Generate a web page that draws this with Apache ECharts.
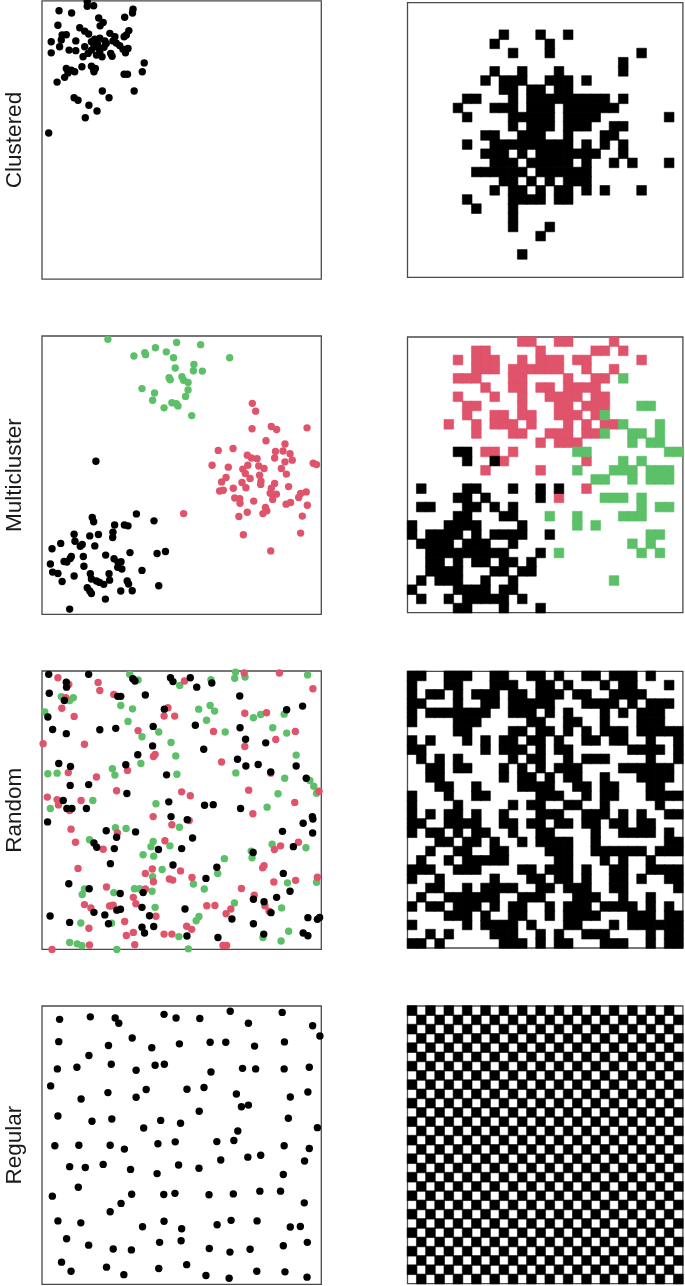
<!DOCTYPE html>
<html>
<head>
<meta charset="utf-8">
<script src="https://cdn.jsdelivr.net/npm/echarts@6/dist/echarts.min.js"></script>
<style>
html,body{margin:0;padding:0;background:#fff;}
#chart{width:685px;height:1286px;}
</style>
</head>
<body>
<div id="chart"></div>
<script>
// ---------------- DATA ----------------
const rowLabels = ['Clustered', 'Multicluster', 'Random', 'Regular'];

// scatter panels: [x, y] on a 0-100 scale
const clusteredPts = [
[16.2,99.7],[16.2,98.0],[18.5,98.2],[6.1,96.4],[10.6,95.6],[32.6,97.0],[32.4,95.6],[29.6,94.1],
[20.3,93.8],[21.9,92.2],[20.8,91.0],[5.7,91.2],[13.5,90.3],[15.3,89.1],[16.7,88.1],[31.1,89.3],
[30.2,87.7],[7.2,87.7],[8.7,87.8],[24.3,88.3],[26.1,87.1],[29.4,87.1],[12.1,85.6],[6.9,85.9],
[3.3,85.3],[6.3,83.5],[3.3,81.3],[9.7,82.3],[12.1,82.1],[15.3,83.5],[17.7,85.3],[18.9,86.2],
[20.7,86.6],[22.5,85.6],[23.0,84.7],[25.4,85.6],[26.6,84.8],[27.8,83.9],[18.6,83.5],[20.1,83.2],
[20.7,81.7],[17.7,82.3],[19.5,80.5],[21.5,79.9],[24.6,81.1],[25.1,80.1],[29.0,82.6],[30.8,82.9],
[29.9,81.3],[14.7,79.9],[36.6,77.7],[35.9,74.5],[8.7,75.7],[10.5,75.1],[9.3,74.1],[11.7,74.5],
[8.1,72.5],[14.3,76.3],[17.7,76.5],[19.1,75.7],[18.6,74.5],[29.4,73.6],[30.6,73.6],[5.4,70.8],
[21.6,67.6],[33.0,67.6],[11.5,65.2],[12.9,64.3],[24.0,65.2],[16.8,62.5],[19.7,60.4],[15.5,58.0],
[2.4,52.5],[19.8,84.7],[22.2,83.3],[16.5,81.1],[18.5,75.3]
];

const multiGreen = [
[23.6,98.8],[32.9,92.8],[36.8,94.0],[37.1,93.3],[40.6,95.8],[44.5,94.3],[48.2,97.7],[47.1,92.2],
[56.8,96.9],[67.2,92.2],[47.7,88.5],[54.4,89.8],[54.2,87.5],[57.4,87.4],[45.5,85.0],[45.9,84.3],
[50.1,85.4],[50.7,84.1],[52.3,83.3],[35.8,81.1],[40.3,79.5],[52.3,80.6],[51.4,78.3],[39.6,76.9],
[46.5,76.0],[48.1,75.7],[48.7,74.9],[43.7,74.2],[53.6,71.4]
];
const multiRed = [
[75.3,75.8],[76.5,73.0],[75.2,66.7],[82.1,67.5],[84.0,66.4],[94.9,67.0],[80.2,62.4],[87.0,61.2],
[63.1,58.9],[68.4,59.6],[73.5,57.2],[75.0,56.2],[77.0,55.9],[83.6,58.5],[86.3,58.7],[88.8,57.7],
[83.3,56.2],[87.0,54.8],[89.6,55.4],[97.1,54.3],[98.3,53.8],[60.9,53.6],[66.7,52.9],[71.9,52.2],
[73.7,53.6],[77.6,53.3],[79.5,52.4],[85.7,52.4],[65.9,49.2],[72.8,50.6],[74.5,48.8],[77.9,50.0],
[78.3,46.7],[83.3,47.0],[87.5,50.4],[64.3,47.6],[71.6,47.4],[78.4,47.8],[63.6,44.3],[64.9,44.6],
[68.5,45.3],[73.0,45.5],[82.1,45.3],[88.3,45.9],[81.7,43.5],[83.9,43.2],[94.6,44.0],[92.6,43.4],
[91.9,42.0],[69.0,41.8],[70.8,41.6],[75.8,40.7],[82.6,41.3],[70.9,39.9],[87.4,39.6],[89.0,40.2],
[95.0,39.2],[80.0,38.4],[80.5,37.2],[79.1,36.2],[73.5,36.7],[70.5,35.2],[50.7,36.2],[93.2,35.3],
[72.1,28.6],[92.6,29.2],[81.9,22.8]
];
const multiBlack = [
[19.3,55.0],[33.8,36.1],[40.1,33.6],[18.0,34.8],[18.5,33.3],[26.0,32.1],[29.5,32.1],[30.8,31.8],
[11.5,28.8],[17.1,28.2],[20.2,28.7],[25.4,29.5],[25.3,27.6],[6.7,25.5],[11.8,26.3],[13.7,24.5],
[14.4,25.1],[18.9,24.6],[3.6,23.6],[31.5,22.2],[41.2,21.9],[44.2,22.6],[10.5,20.8],[14.8,20.8],
[22.8,21.3],[7.9,19.0],[8.9,18.8],[10.1,20.1],[25.8,20.0],[27.2,18.7],[28.3,18.9],[3.0,18.1],
[15.0,17.3],[27.1,16.9],[28.6,16.3],[35.8,15.8],[3.8,15.2],[5.7,14.7],[11.5,13.8],[17.3,14.6],
[24.0,14.6],[17.7,12.7],[19.5,12.0],[20.6,11.5],[22.1,10.8],[24.2,12.3],[7.2,11.8],[30.5,12.0],
[31.0,10.9],[16.2,9.6],[17.1,8.4],[17.7,7.5],[28.2,8.4],[32.3,8.5],[41.8,10.3],[22.7,5.5],[9.9,1.9]
];

const randomBlack = [
[2.4,98.8],[8.7,96.0],[8.8,94.2],[16.7,98.8],[2.6,92.0],[8.0,89.4],[2.1,83.5],[32.5,97.2],
[33.3,96.4],[27.1,90.9],[28.2,90.9],[37.0,91.4],[46.0,97.6],[46.9,96.2],[53.1,97.6],[55.4,94.2],
[60.8,95.7],[70.8,91.0],[43.8,86.3],[87.6,86.1],[93.3,87.4],[3.8,79.0],[8.7,77.5],[20.7,78.9],
[26.4,79.4],[39.8,80.1],[54.9,80.5],[70.9,79.6],[72.9,75.5],[80.1,74.2],[39.6,73.1],[57.9,71.9],
[34.3,69.9],[6.0,66.8],[10.2,65.7],[30.0,66.3],[44.6,62.7],[70.0,68.3],[73.0,65.9],[77.4,66.4],
[81.9,63.7],[91.0,65.9],[94.6,61.5],[10.1,58.9],[16.7,59.2],[30.4,56.0],[7.6,53.5],[45.4,53.0],
[58.2,51.8],[61.3,52.0],[8.9,50.6],[10.7,50.6],[15.9,50.6],[71.1,50.6],[2.0,45.8],[46.2,47.7],
[52.0,46.6],[93.5,45.3],[96.8,47.7],[97.0,46.8],[96.9,41.8],[23.0,42.6],[33.5,42.2],[26.7,40.3],
[86.1,42.4],[18.6,38.2],[19.6,36.7],[25.9,36.2],[41.7,35.9],[50.0,36.2],[53.9,40.0],[75.6,34.8],
[90.0,36.9],[24.5,30.8],[46.9,30.3],[62.6,29.5],[58.7,25.5],[86.4,27.3],[88.8,20.9],[9.6,23.6],
[16.9,21.8],[28.0,20.1],[36.2,20.4],[18.6,13.3],[26.8,14.1],[28.1,14.4],[22.5,12.4],[35.8,15.1],
[38.5,12.1],[51.2,14.5],[68.0,10.9],[75.7,18.0],[79.5,17.1],[84.0,18.7],[82.0,13.2],[95.2,11.4],
[98.6,10.8],[99.4,11.5],[2.9,12.0],[9.9,9.7],[23.8,9.2],[35.8,8.0],[40.0,8.2],[36.7,5.9],
[51.9,4.8],[63.0,4.3],[75.7,9.2],[79.4,5.5],[93.5,5.9],[95.2,4.9]
];
const randomRed = [
[5.7,97.6],[9.6,95.2],[20.1,95.9],[20.7,93.0],[8.5,90.4],[7.1,86.6],[11.5,83.7],[25.7,91.6],
[51.0,96.4],[72.4,99.3],[85.0,99.3],[97.0,93.6],[45.1,86.8],[43.7,83.8],[47.5,83.8],[72.6,84.8],
[80.4,85.0],[34.4,78.6],[61.4,78.3],[72.6,72.9],[83.7,75.4],[90.7,78.3],[0.4,73.9],[15.2,73.7],
[39.9,69.3],[40.5,70.0],[9.4,63.5],[30.6,64.3],[19.5,61.9],[64.3,67.3],[81.9,63.3],[99.2,56.8],
[26.7,57.0],[50.0,56.6],[53.1,55.2],[74.0,57.2],[90.5,52.8],[1.9,54.7],[5.4,53.8],[5.9,51.9],
[14.0,53.5],[9.9,49.9],[75.5,48.7],[39.8,47.7],[46.5,44.8],[52.7,46.3],[10.4,43.2],[27.0,41.8],
[12.0,38.5],[21.9,36.0],[44.0,39.0],[83.2,35.9],[85.4,37.2],[91.8,38.5],[12.9,29.1],[49.6,28.2],
[39.5,28.9],[37.0,27.3],[45.6,25.3],[46.8,24.9],[39.9,24.3],[53.7,25.8],[79.5,30.1],[79.0,29.3],
[90.8,24.8],[83.0,24.2],[98.6,25.9],[23.1,22.4],[37.0,21.7],[71.4,21.9],[32.7,18.7],[33.6,16.4],
[15.2,16.1],[24.2,15.6],[25.0,15.7],[25.5,15.9],[17.5,14.9],[40.8,11.9],[59.0,15.7],[61.9,15.8],
[67.6,14.5],[65.9,12.8],[76.0,19.5],[79.8,15.7],[81.3,13.7],[16.8,7.6],[29.6,10.0],[32.7,6.1],
[30.2,5.0],[43.7,5.5],[46.5,5.5],[51.8,8.3],[53.6,7.2],[17.0,1.6],[3.6,0.0],[33.2,1.7],
[64.8,1.4],[66.1,1.4]
];
const randomGreen = [
[6.9,90.8],[9.9,89.4],[11.2,90.4],[1.0,85.3],[31.4,98.8],[34.4,96.8],[28.2,87.6],[32.4,86.4],
[49.3,94.8],[60.5,96.9],[69.3,99.6],[69.0,97.4],[72.7,97.8],[95.1,98.6],[56.1,86.3],[60.2,87.6],
[61.8,85.6],[58.9,82.3],[75.7,83.2],[78.3,84.4],[86.7,84.5],[30.8,81.9],[35.8,76.4],[41.8,78.1],
[65.6,78.1],[82.6,79.6],[87.6,77.7],[46.2,74.3],[47.9,69.5],[35.4,66.8],[2.1,63.1],[5.4,63.3],
[25.2,64.9],[26.1,62.6],[48.3,62.9],[69.4,63.4],[91.0,69.8],[86.9,61.5],[95.9,60.7],[97.3,58.6],
[98.3,56.1],[84.5,55.9],[18.2,53.5],[40.8,52.3],[80.6,51.1],[3.0,50.6],[49.2,43.9],[26.3,43.7],
[30.1,43.4],[17.0,39.4],[39.8,38.8],[39.0,36.9],[45.8,37.2],[36.2,34.0],[40.0,33.5],[82.4,37.8],
[94.5,36.5],[74.9,35.3],[75.2,32.9],[65.3,32.6],[43.0,28.7],[39.6,26.1],[62.9,27.3],[54.2,23.5],
[87.9,23.9],[98.3,24.1],[15.2,21.7],[14.4,19.7],[25.7,20.4],[33.1,21.8],[34.9,21.8],[39.4,20.9],
[58.1,21.7],[40.5,15.1],[68.9,16.7],[85.8,14.9],[13.9,9.5],[24.9,9.4],[49.0,4.6],[55.2,10.3],
[56.2,11.8],[79.1,4.3],[88.3,6.5],[85.6,3.0],[9.9,2.5],[12.6,2.0],[14.3,1.3],[26.8,0.0],[52.4,0.2]
];

const regularPts = [
[6.3,95.2],[17.3,96.1],[26.2,95.7],[27.5,93.8],[43.7,97.0],[48.0,95.7],[56.5,95.5],[67.4,98.1],
[73.9,93.8],[86.0,97.7],[96.9,92.9],[99.5,89.2],[6.0,87.2],[23.8,85.8],[32.3,88.5],[39.3,85.0],
[49.2,86.4],[60.2,87.0],[65.8,87.0],[76.1,85.6],[86.8,87.1],[16.8,82.2],[5.5,77.4],[12.5,78.0],
[24.8,79.1],[33.7,76.9],[40.5,78.7],[43.8,79.1],[60.5,76.3],[71.8,77.6],[76.5,77.4],[86.7,77.4],
[95.7,78.0],[3.1,71.3],[14.0,66.6],[23.6,68.9],[33.7,67.2],[37.3,70.0],[51.9,70.1],[58.0,70.7],
[69.6,68.4],[71.4,63.8],[73.9,64.4],[88.9,67.3],[95.2,69.1],[5.7,60.5],[17.9,58.6],[25.0,59.4],
[36.4,56.2],[42.5,58.9],[49.6,57.9],[56.3,62.2],[70.1,55.1],[88.2,59.7],[98.6,56.3],[4.6,49.8],
[13.2,50.0],[24.4,50.0],[29.5,48.6],[41.5,50.5],[47.7,51.2],[62.6,51.3],[68.7,51.7],[86.7,49.8],
[95.7,48.8],[9.9,42.3],[15.5,42.0],[21.9,43.1],[31.7,41.3],[41.2,39.8],[48.9,42.9],[56.2,41.7],
[64.0,44.7],[73.7,45.7],[78.3,46.4],[86.4,39.5],[94.0,44.3],[13.0,34.9],[3.7,31.7],[32.1,32.4],
[43.6,32.3],[47.6,32.7],[59.8,32.2],[68.5,32.5],[78.0,33.5],[85.4,33.5],[93.9,29.3],[28.3,29.1],
[24.4,26.1],[5.7,22.8],[13.9,22.1],[36.0,20.7],[43.7,22.7],[50.0,20.0],[62.7,21.4],[67.7,23.0],
[77.0,22.8],[88.9,20.6],[92.5,20.8],[8.8,16.4],[16.7,14.1],[25.5,12.7],[32.0,12.4],[42.1,15.1],
[49.8,15.7],[59.9,12.9],[67.3,11.6],[74.5,12.6],[86.4,13.9],[95.0,15.1],[7.0,8.0],[10.4,4.7],
[23.1,6.2],[29.3,3.5],[41.8,5.7],[51.8,7.1],[58.7,3.2],[67.0,2.2],[76.9,4.7],[87.0,4.5],[94.9,2.6]
];

// grid panels (30 x 30 cells), row 0 at the top
// Clustered: filled column indices per row
const clusteredCells = [
[],[],[],
[10,14,17],
[9,15],
[11,15,25],
[23],
[9,12,16,23],
[8,10,11,12,15,16,17,19],
[10,11,13,14,16,17],
[6,7,11,13,14,15,16,17,18,19,20,21,23],
[5,9,10,11,13,14,15,17,18,19,20,21,22],
[6,11,12,13,14,15,17,18,19,20,28],
[11,13,14,15,17,18,19,22,23],
[8,9,12,13,14,17,21,22],
[6,9,10,11,12,13,14,15,16,17,19,21,23],
[8,9,10,12,14,15,16,17,18,19,20,23],
[9,10,11,13,14,15,16,17,19,22,24,28],
[7,8,9,10,11,12,14,15,16,17,18,19],
[10,11,13,15,17,18,19],
[9,11,12,14,16,17,19,21,25],
[6,11,12,13,14,16,17],
[7,11],
[11],
[11,15],
[14],
[],
[12],
[],[]
];

// Multicluster: filled column indices per row, by colour
const multiRedCells = [
[12,13,16,17,22],
[7,8,14,20,21,23],
[5,7,8,9,12,14,15,16,18,19,25],
[7,8,9,11,12,13,14,15,16,19,22],
[5,6,7,11,12,17,20,21],
[8,11,12,14,15,17,18,19,20],
[5,9,12,15,16,17,18,20,21],
[6,7,12,16,17,19,20,21],
[6,9,10,12,13,16,17,18,20],
[4,7,9,10,11,13,17,19,21,22],
[7,11,12,15,16,17,19,20],
[14,16,17,18],
[8,9,11],
[10,19],
[8,14],
[],
[19],
[16],
[],[],[],[],[],[],[],[],[],[],[],[]
];
const multiGreenCells = [
[],[],[],[],
[23],
[],[],
[25,26],
[21],
[23,27],
[21,24,25,27],
[24,26,27],
[18,19,28,29],
[23,25],
[18,22,23,24,26,27,28],
[20,21,24,26,27,28],
[],
[21,22,23,25],
[25,27,28],
[15,18,23,24,25],
[18,20],
[26,27],
[24,26],
[16,25,27],
[],[],
[22],
[],[],[]
];
const multiBlackCells = [
[],[],[],[],[],[],[],[],[],[],[],[],
[5,6],
[6,9],
[],[],
[1,6,7,11,14,16],
[5,6,8,14],
[1,2,6,7,9,11],
[5,6,10,11],
[0,4,5,6,7,12],
[0,2,3,4,5,7,9,10,11,12,15],
[1,2,3,4,6,7,8,11],
[2,3,4,5,6,7,8,9,10,14],
[2,3,5,7,8,10,11,13],
[2,3,4,5,9,10,12,13],
[1,3,4,5,8,11],
[0,5,6,7,8,10,11],
[1,4,6,7,8,9,10,12],
[5,6,10,14]
];

// Random: '1' = filled
const randomRows = [
'110011100110011010011011101000',
'100011000111001101000101100010',
'101101011101101110110011110000',
'110001001101111100011110101110',
'101111111001110101000101011100',
'100001110000011001100100011100',
'000001100001101101010111011111',
'101000101011011010011011001001',
'110000001011101011000000111101',
'010101000001011001011100001001',
'001101100010101011100001111110',
'001100000010110101100100011110',
'000110010000111100110110001100',
'100010011000001110010110001111',
'100001000001011001100100000100',
'101011010010001110011101010011',
'110011110011011011011011011000',
'101101011001001100001001111010',
'000110110100101111001000000011',
'001001100110000111001111110111',
'010010111110000011000101001000',
'111001110000110111010011001111',
'100100000100011011010011010011',
'001100101111001101110011000001',
'010011111100111000111001001000',
'101101110101100101110111101010',
'000011101001100101111000111011',
'100000101111010001100010111111',
'001010000111001010011100001011',
'110100000011101011000111001011'
];

// Regular: '1' = filled
const regularRows = [
'101010101010101010101010101010','010101010101010101010101010101',
'101010101010101010101010101010','010101010101010101010101010101',
'101010101010101010101010101010','010101010101010101010101010101',
'101010101010101010101010101010','010101010101010101010101010101',
'101010101010101010101010101010','010101010101010101010101010101',
'101010101010101010101010101010','010101010101010101010101010101',
'101010101010101010101010101010','010101010101010101010101010101',
'101010101010101010101010101010','010101010101010101010101010101',
'101010101010101010101010101010','010101010101010101010101010101',
'101010101010101010101010101010','010101010101010101010101010101',
'101010101010101010101010101010','010101010101010101010101010101',
'101010101010101010101010101010','010101010101010101010101010101',
'101010101010101010101010101010','010101010101010101010101010101',
'101010101010101010101010101010','010101010101010101010101010101',
'101010101010101010101010101010','010101010101010101010101010101'
];

// ---------------- STYLE / LAYOUT ----------------
const BLACK = '#000000', RED = '#DF536B', GREEN = '#5CC068';
const FONT = '"Liberation Sans", Arial, Helvetica, sans-serif';
const leftTops = [0.8, 336, 671, 1006];
const leftH = 278.4;
const rightTops = [2.7, 337, 671.3, 1006];
const rightH = [274.6, 275.7, 276.7, 277.6];
const N = 30;
const cats = Array.from({length: N}, (_, i) => String(i));

function cellsFromLists(lists, color) {
  const out = [];
  lists.forEach((cols, r) => cols.forEach(c => out.push({value: [c, r, 1], itemStyle: {color: color, borderColor: color}})));
  return out;
}
function cellsFromRows(rows, color) {
  const out = [];
  rows.forEach((s, r) => { for (let c = 0; c < s.length; c++) if (s[c] === '1') out.push({value: [c, r, 1], itemStyle: {color: color, borderColor: color}}); });
  return out;
}

const grids = [], xAxes = [], yAxes = [], series = [];
const hidden = {axisLine: {show: false}, axisTick: {show: false}, axisLabel: {show: false}, splitLine: {show: false}};

for (let i = 0; i < 4; i++) {
  grids.push({left: 42, top: leftTops[i], width: 279.3, height: leftH, show: true, borderColor: '#4a4a4a', borderWidth: 1.3, backgroundColor: 'transparent'});
  xAxes.push(Object.assign({type: 'value', gridIndex: i, min: 0, max: 100}, hidden));
  yAxes.push(Object.assign({type: 'value', gridIndex: i, min: 0, max: 100,
    name: rowLabels[i], nameLocation: 'middle', nameRotate: 90, nameGap: 16,
    nameTextStyle: {fontSize: 22.5, color: '#1a1a1a', fontFamily: FONT}}, hidden));
}
for (let i = 0; i < 4; i++) {
  grids.push({left: 407.5, top: rightTops[i], width: 275.4, height: rightH[i], show: true, borderColor: '#4a4a4a', borderWidth: 1.3, backgroundColor: 'transparent'});
  xAxes.push(Object.assign({type: 'category', gridIndex: 4 + i, data: cats, boundaryGap: true}, hidden));
  yAxes.push(Object.assign({type: 'category', gridIndex: 4 + i, data: cats, inverse: true, boundaryGap: true}, hidden));
}

function scat(gi, data, color) {
  series.push({type: 'scatter', xAxisIndex: gi, yAxisIndex: gi, data: data, symbolSize: 7.4,
    itemStyle: {color: color, opacity: 1}, silent: true, animation: false, z: 3});
}
function heat(gi, data) {
  series.push({type: 'heatmap', xAxisIndex: gi, yAxisIndex: gi, data: data,
    itemStyle: {borderWidth: 0.6}, silent: true, animation: false, emphasis: {disabled: true}});
}

scat(0, clusteredPts, BLACK);
scat(1, multiGreen, GREEN);
scat(1, multiRed, RED);
scat(1, multiBlack, BLACK);
scat(2, randomGreen, GREEN);
scat(2, randomRed, RED);
scat(2, randomBlack, BLACK);
scat(3, regularPts, BLACK);

heat(4, cellsFromLists(clusteredCells, BLACK));
heat(5, cellsFromLists(multiRedCells, RED).concat(cellsFromLists(multiGreenCells, GREEN), cellsFromLists(multiBlackCells, BLACK)));
heat(6, cellsFromRows(randomRows, BLACK));
heat(7, cellsFromRows(regularRows, BLACK));

const chart = echarts.init(document.getElementById('chart'), null, {renderer: 'canvas'});
chart.setOption({
  animation: false,
  backgroundColor: '#ffffff',
  grid: grids, xAxis: xAxes, yAxis: yAxes, series: series
});
</script>
</body>
</html>
